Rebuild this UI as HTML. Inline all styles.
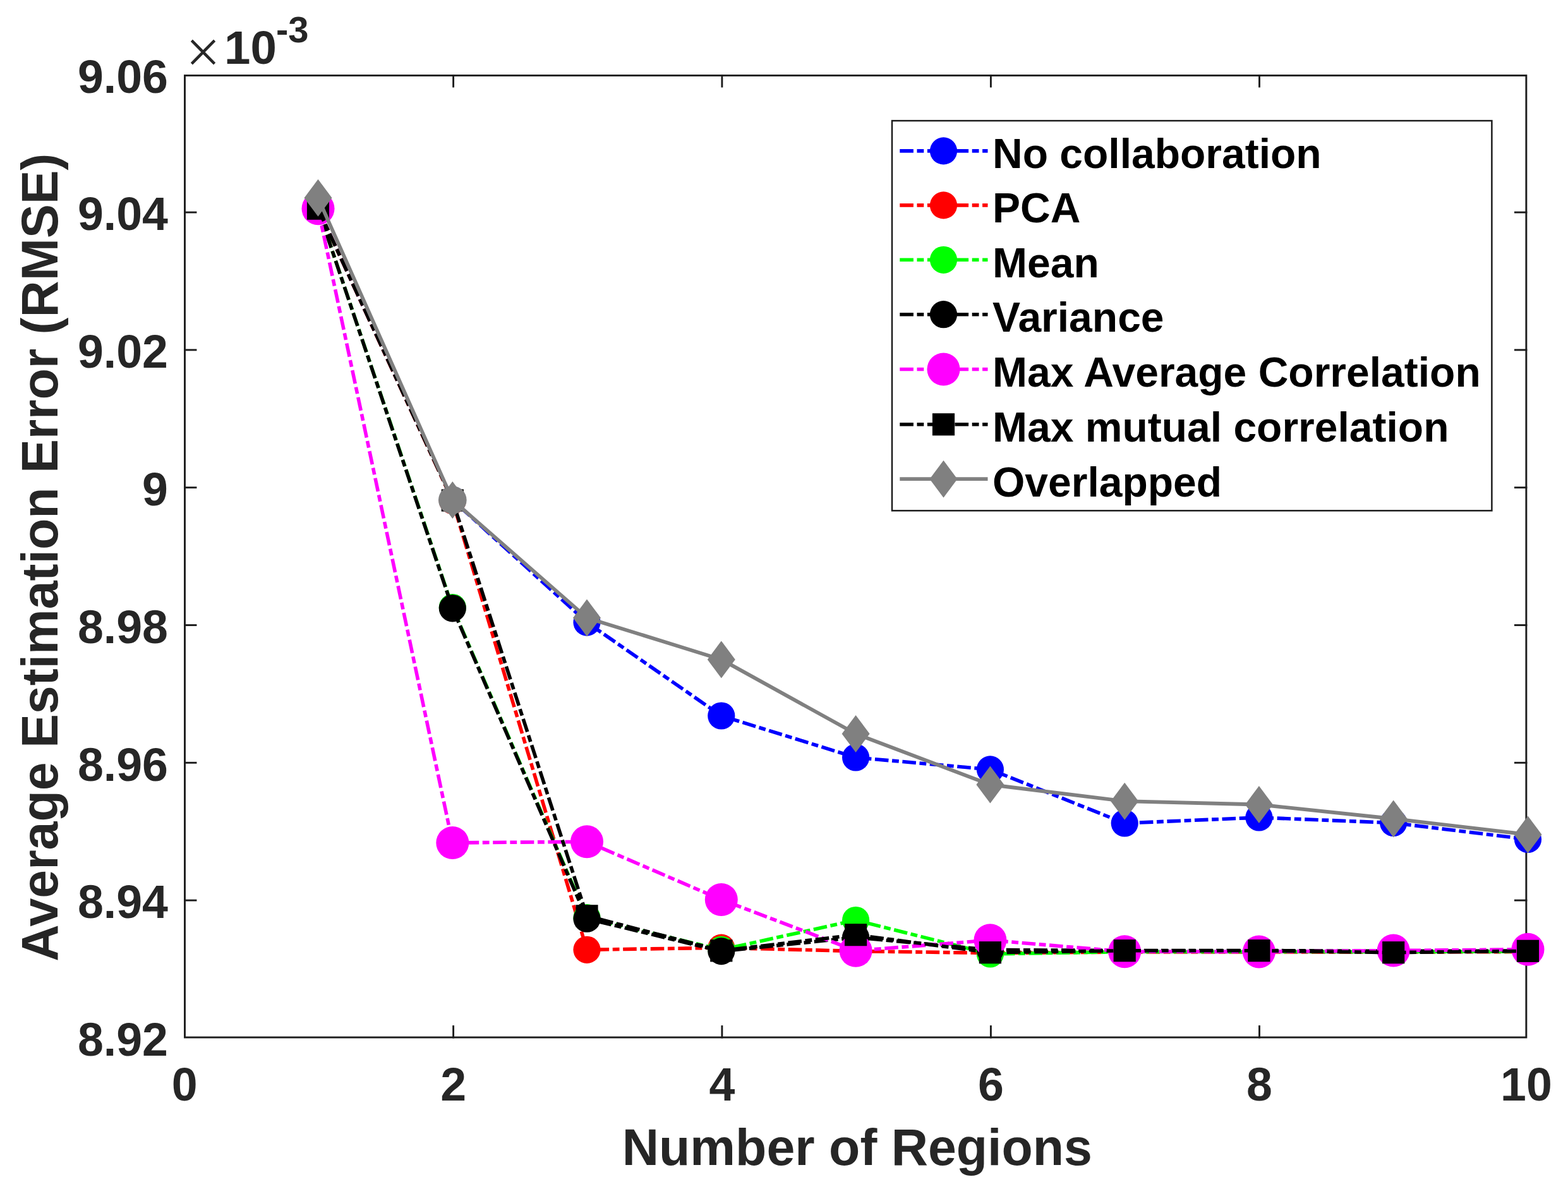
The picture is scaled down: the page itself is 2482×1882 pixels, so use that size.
<!DOCTYPE html>
<html><head><meta charset="utf-8"><title>Average Estimation Error vs Number of Regions</title>
<style>html,body{margin:0;padding:0;background:#fff;}body{width:2482px;height:1882px;overflow:hidden;}svg{display:block;}text{font-family:'Liberation Sans', Arial, Helvetica, sans-serif;}</style></head><body>
<svg width="2482" height="1882" viewBox="0 0 2482 1882">
<rect x="0" y="0" width="2482" height="1882" fill="#ffffff"/>
<g stroke="#1c1c1c" stroke-width="2.9" fill="none" stroke-linecap="square">
<rect x="292.5" y="119.5" width="2123.4" height="1522.5"/>
<line x1="717.6" y1="1642.0" x2="717.6" y2="1624.5"/>
<line x1="717.6" y1="119.5" x2="717.6" y2="137.0"/>
<line x1="1142.9" y1="1642.0" x2="1142.9" y2="1624.5"/>
<line x1="1142.9" y1="119.5" x2="1142.9" y2="137.0"/>
<line x1="1568.4" y1="1642.0" x2="1568.4" y2="1624.5"/>
<line x1="1568.4" y1="119.5" x2="1568.4" y2="137.0"/>
<line x1="1993.5" y1="1642.0" x2="1993.5" y2="1624.5"/>
<line x1="1993.5" y1="119.5" x2="1993.5" y2="137.0"/>
<line x1="292.5" y1="336.1" x2="310.0" y2="336.1"/>
<line x1="2415.9" y1="336.1" x2="2398.4" y2="336.1"/>
<line x1="292.5" y1="553.9" x2="310.0" y2="553.9"/>
<line x1="2415.9" y1="553.9" x2="2398.4" y2="553.9"/>
<line x1="292.5" y1="771.7" x2="310.0" y2="771.7"/>
<line x1="2415.9" y1="771.7" x2="2398.4" y2="771.7"/>
<line x1="292.5" y1="989.5" x2="310.0" y2="989.5"/>
<line x1="2415.9" y1="989.5" x2="2398.4" y2="989.5"/>
<line x1="292.5" y1="1207.3" x2="310.0" y2="1207.3"/>
<line x1="2415.9" y1="1207.3" x2="2398.4" y2="1207.3"/>
<line x1="292.5" y1="1425.1" x2="310.0" y2="1425.1"/>
<line x1="2415.9" y1="1425.1" x2="2398.4" y2="1425.1"/>
</g>
<g fill="#262626" font-size="73.5" font-weight="bold">
<text x="266" y="146.6" text-anchor="end">9.06</text>
<text x="266" y="364.4" text-anchor="end">9.04</text>
<text x="266" y="582.2" text-anchor="end">9.02</text>
<text x="266" y="800.0" text-anchor="end">9</text>
<text x="266" y="1017.8" text-anchor="end">8.98</text>
<text x="266" y="1235.6" text-anchor="end">8.96</text>
<text x="266" y="1453.4" text-anchor="end">8.94</text>
<text x="266" y="1671.2" text-anchor="end">8.92</text>
<text x="292.3" y="1742.3" text-anchor="middle">0</text>
<text x="717.6" y="1742.3" text-anchor="middle">2</text>
<text x="1142.9" y="1742.3" text-anchor="middle">4</text>
<text x="1568.4" y="1742.3" text-anchor="middle">6</text>
<text x="1993.5" y="1742.3" text-anchor="middle">8</text>
<text x="2416.0" y="1742.3" text-anchor="middle">10</text>
</g>
<g fill="#262626"><text x="290.4" y="105.8" font-size="74" font-weight="200" stroke="#262626" stroke-width="0.8" style="font-family:'DejaVu Sans',sans-serif">×</text><text x="355" y="101.1" font-size="74.5" font-weight="bold">10</text><text x="437" y="67" font-size="58" font-weight="bold">-3</text></g>
<text x="1356.9" y="1843.9" text-anchor="middle" font-size="80.7" font-weight="bold" fill="#262626">Number of Regions</text>
<text transform="translate(90.8 882.2) rotate(-90)" x="0" y="0" text-anchor="middle" font-size="80.7" font-weight="bold" fill="#262626">Average Estimation Error (RMSE)</text>
<polyline points="503.5,330.2 716.3,791.3 929.0,985.1 1141.8,1133.0 1354.6,1199.0 1567.4,1217.9 1780.2,1303.0 1992.9,1294.0 2205.7,1302.5 2418.5,1328.5" fill="none" stroke="#0000ff" stroke-width="5.6" stroke-dasharray="21.6 5.6 10.8 5.6" stroke-linejoin="round"/>
<g><circle cx="503.5" cy="330.2" r="21.6" fill="#0000ff"/><circle cx="716.3" cy="791.3" r="21.6" fill="#0000ff"/><circle cx="929.0" cy="985.1" r="21.6" fill="#0000ff"/><circle cx="1141.8" cy="1133.0" r="21.6" fill="#0000ff"/><circle cx="1354.6" cy="1199.0" r="21.6" fill="#0000ff"/><circle cx="1567.4" cy="1217.9" r="21.6" fill="#0000ff"/><circle cx="1780.2" cy="1303.0" r="21.6" fill="#0000ff"/><circle cx="1992.9" cy="1294.0" r="21.6" fill="#0000ff"/><circle cx="2205.7" cy="1302.5" r="21.6" fill="#0000ff"/><circle cx="2418.5" cy="1328.5" r="21.6" fill="#0000ff"/></g>
<polyline points="503.5,330.2 716.3,792.6 929.0,1503.3 1141.8,1500.2 1354.6,1505.5 1567.4,1508.5 1780.2,1507.0 1992.9,1507.0 2205.7,1507.0 2418.5,1506.5" fill="none" stroke="#ff0000" stroke-width="5.6" stroke-dasharray="21.6 5.6 10.8 5.6" stroke-linejoin="round"/>
<g><circle cx="503.5" cy="330.2" r="21.6" fill="#ff0000"/><circle cx="716.3" cy="792.6" r="21.6" fill="#ff0000"/><circle cx="929.0" cy="1503.3" r="21.6" fill="#ff0000"/><circle cx="1141.8" cy="1500.2" r="21.6" fill="#ff0000"/><circle cx="1354.6" cy="1505.5" r="21.6" fill="#ff0000"/><circle cx="1567.4" cy="1508.5" r="21.6" fill="#ff0000"/><circle cx="1780.2" cy="1507.0" r="21.6" fill="#ff0000"/><circle cx="1992.9" cy="1507.0" r="21.6" fill="#ff0000"/><circle cx="2205.7" cy="1507.0" r="21.6" fill="#ff0000"/><circle cx="2418.5" cy="1506.5" r="21.6" fill="#ff0000"/></g>
<polyline points="503.5,330.2 716.3,961.5 929.0,1452.5 1141.8,1503.3 1354.6,1456.5 1567.4,1510.0 1780.2,1506.5 1992.9,1506.5 2205.7,1506.5 2418.5,1506.0" fill="none" stroke="#00ff00" stroke-width="5.6" stroke-dasharray="21.6 5.6 10.8 5.6" stroke-linejoin="round"/>
<g><circle cx="503.5" cy="330.2" r="21.6" fill="#00ff00"/><circle cx="716.3" cy="961.5" r="21.6" fill="#00ff00"/><circle cx="929.0" cy="1452.5" r="21.6" fill="#00ff00"/><circle cx="1141.8" cy="1503.3" r="21.6" fill="#00ff00"/><circle cx="1354.6" cy="1456.5" r="21.6" fill="#00ff00"/><circle cx="1567.4" cy="1510.0" r="21.6" fill="#00ff00"/><circle cx="1780.2" cy="1506.5" r="21.6" fill="#00ff00"/><circle cx="1992.9" cy="1506.5" r="21.6" fill="#00ff00"/><circle cx="2205.7" cy="1506.5" r="21.6" fill="#00ff00"/><circle cx="2418.5" cy="1506.0" r="21.6" fill="#00ff00"/></g>
<polyline points="503.5,330.2 716.3,962.8 929.0,1454.2 1141.8,1505.6 1354.6,1483.8 1567.4,1503.5 1780.2,1504.5 1992.9,1504.5 2205.7,1505.5 2418.5,1505.0" fill="none" stroke="#000000" stroke-width="5.6" stroke-dasharray="21.6 5.6 10.8 5.6" stroke-linejoin="round"/>
<g><circle cx="503.5" cy="330.2" r="21.6" fill="#000000"/><circle cx="716.3" cy="962.8" r="21.6" fill="#000000"/><circle cx="929.0" cy="1454.2" r="21.6" fill="#000000"/><circle cx="1141.8" cy="1505.6" r="21.6" fill="#000000"/><circle cx="1354.6" cy="1483.8" r="21.6" fill="#000000"/><circle cx="1567.4" cy="1503.5" r="21.6" fill="#000000"/><circle cx="1780.2" cy="1504.5" r="21.6" fill="#000000"/><circle cx="1992.9" cy="1504.5" r="21.6" fill="#000000"/><circle cx="2205.7" cy="1505.5" r="21.6" fill="#000000"/><circle cx="2418.5" cy="1505.0" r="21.6" fill="#000000"/></g>
<polyline points="503.5,330.2 716.3,1334.0 929.0,1332.3 1141.8,1424.0 1354.6,1504.8 1567.4,1488.2 1780.2,1506.2 1992.9,1506.4 2205.7,1504.6 2418.5,1502.8" fill="none" stroke="#ff00ff" stroke-width="5.6" stroke-dasharray="21.6 5.6 10.8 5.6" stroke-linejoin="round"/>
<g><circle cx="503.5" cy="330.2" r="26.0" fill="#ff00ff"/><circle cx="716.3" cy="1334.0" r="26.0" fill="#ff00ff"/><circle cx="929.0" cy="1332.3" r="26.0" fill="#ff00ff"/><circle cx="1141.8" cy="1424.0" r="26.0" fill="#ff00ff"/><circle cx="1354.6" cy="1504.8" r="26.0" fill="#ff00ff"/><circle cx="1567.4" cy="1488.2" r="26.0" fill="#ff00ff"/><circle cx="1780.2" cy="1506.2" r="26.0" fill="#ff00ff"/><circle cx="1992.9" cy="1506.4" r="26.0" fill="#ff00ff"/><circle cx="2205.7" cy="1504.6" r="26.0" fill="#ff00ff"/><circle cx="2418.5" cy="1502.8" r="26.0" fill="#ff00ff"/></g>
<polyline points="503.5,330.2 716.3,792.0 929.0,1449.8 1141.8,1504.8 1354.6,1479.7 1567.4,1507.7 1780.2,1504.7 1992.9,1504.7 2205.7,1507.7 2418.5,1505.3" fill="none" stroke="#000000" stroke-width="5.6" stroke-dasharray="21.6 5.6 10.8 5.6" stroke-linejoin="round"/>
<g><rect x="485.9" y="312.6" width="35.2" height="35.2" fill="#000000"/><rect x="698.7" y="774.4" width="35.2" height="35.2" fill="#000000"/><rect x="911.4" y="1432.2" width="35.2" height="35.2" fill="#000000"/><rect x="1124.2" y="1487.2" width="35.2" height="35.2" fill="#000000"/><rect x="1337.0" y="1462.1" width="35.2" height="35.2" fill="#000000"/><rect x="1549.8" y="1490.1" width="35.2" height="35.2" fill="#000000"/><rect x="1762.6" y="1487.1" width="35.2" height="35.2" fill="#000000"/><rect x="1975.3" y="1487.1" width="35.2" height="35.2" fill="#000000"/><rect x="2188.1" y="1490.1" width="35.2" height="35.2" fill="#000000"/><rect x="2400.9" y="1487.7" width="35.2" height="35.2" fill="#000000"/></g>
<polyline points="503.5,313.3 716.3,791.5 929.0,977.9 1141.8,1043.9 1354.6,1161.5 1567.4,1242.0 1780.2,1268.2 1992.9,1273.5 2205.7,1296.0 2418.5,1321.0" fill="none" stroke="#808080" stroke-width="5.8" stroke-linejoin="round"/>
<g><path d="M503.5 283.8L525.5 313.3L503.5 342.8L481.5 313.3Z" fill="#808080"/><path d="M716.3 762.0L738.3 791.5L716.3 821.0L694.3 791.5Z" fill="#808080"/><path d="M929.0 948.4L951.0 977.9L929.0 1007.4L907.0 977.9Z" fill="#808080"/><path d="M1141.8 1014.4L1163.8 1043.9L1141.8 1073.4L1119.8 1043.9Z" fill="#808080"/><path d="M1354.6 1132.0L1376.6 1161.5L1354.6 1191.0L1332.6 1161.5Z" fill="#808080"/><path d="M1567.4 1212.5L1589.4 1242.0L1567.4 1271.5L1545.4 1242.0Z" fill="#808080"/><path d="M1780.2 1238.7L1802.2 1268.2L1780.2 1297.7L1758.2 1268.2Z" fill="#808080"/><path d="M1992.9 1244.0L2014.9 1273.5L1992.9 1303.0L1970.9 1273.5Z" fill="#808080"/><path d="M2205.7 1266.5L2227.7 1296.0L2205.7 1325.5L2183.7 1296.0Z" fill="#808080"/><path d="M2418.5 1291.5L2440.5 1321.0L2418.5 1350.5L2396.5 1321.0Z" fill="#808080"/></g>
<circle cx="716.3" cy="791.5" r="22.3" fill="#808080"/>
<rect x="1412.0" y="191.1" width="949.4" height="617.2" fill="#ffffff" stroke="#1c1c1c" stroke-width="2.5"/>
<line x1="1424.3" y1="238.9" x2="1563.5" y2="238.9" stroke="#0000ff" stroke-width="5.6" stroke-dasharray="21.6 5.6 10.8 5.6"/>
<circle cx="1493.5" cy="238.9" r="21.6" fill="#0000ff"/>
<text x="1571" y="266.4" font-size="66" font-weight="bold" fill="#000000">No collaboration</text>
<line x1="1424.3" y1="324.9" x2="1563.5" y2="324.9" stroke="#ff0000" stroke-width="5.6" stroke-dasharray="21.6 5.6 10.8 5.6"/>
<circle cx="1493.5" cy="324.9" r="21.6" fill="#ff0000"/>
<text x="1571" y="352.4" font-size="66" font-weight="bold" fill="#000000">PCA</text>
<line x1="1424.3" y1="411.3" x2="1563.5" y2="411.3" stroke="#00ff00" stroke-width="5.6" stroke-dasharray="21.6 5.6 10.8 5.6"/>
<circle cx="1493.5" cy="411.3" r="21.6" fill="#00ff00"/>
<text x="1571" y="438.8" font-size="66" font-weight="bold" fill="#000000">Mean</text>
<line x1="1424.3" y1="497.7" x2="1563.5" y2="497.7" stroke="#000000" stroke-width="5.6" stroke-dasharray="21.6 5.6 10.8 5.6"/>
<circle cx="1493.5" cy="497.7" r="21.6" fill="#000000"/>
<text x="1571" y="525.2" font-size="66" font-weight="bold" fill="#000000">Variance</text>
<line x1="1424.3" y1="584.5" x2="1563.5" y2="584.5" stroke="#ff00ff" stroke-width="5.6" stroke-dasharray="21.6 5.6 10.8 5.6"/>
<circle cx="1493.5" cy="584.5" r="26.0" fill="#ff00ff"/>
<text x="1571" y="612.0" font-size="66" font-weight="bold" fill="#000000">Max Average Correlation</text>
<line x1="1424.3" y1="671.8" x2="1563.5" y2="671.8" stroke="#000000" stroke-width="5.6" stroke-dasharray="21.6 5.6 10.8 5.6"/>
<rect x="1475.9" y="654.2" width="35.2" height="35.2" fill="#000000"/>
<text x="1571" y="699.3" font-size="66" font-weight="bold" fill="#000000">Max mutual correlation</text>
<line x1="1424.3" y1="758.2" x2="1563.5" y2="758.2" stroke="#808080" stroke-width="5.8"/>
<path d="M1493.5 728.7L1515.5 758.2L1493.5 787.7L1471.5 758.2Z" fill="#808080"/>
<text x="1571" y="785.7" font-size="66" font-weight="bold" fill="#000000">Overlapped</text>
</svg></body></html>
